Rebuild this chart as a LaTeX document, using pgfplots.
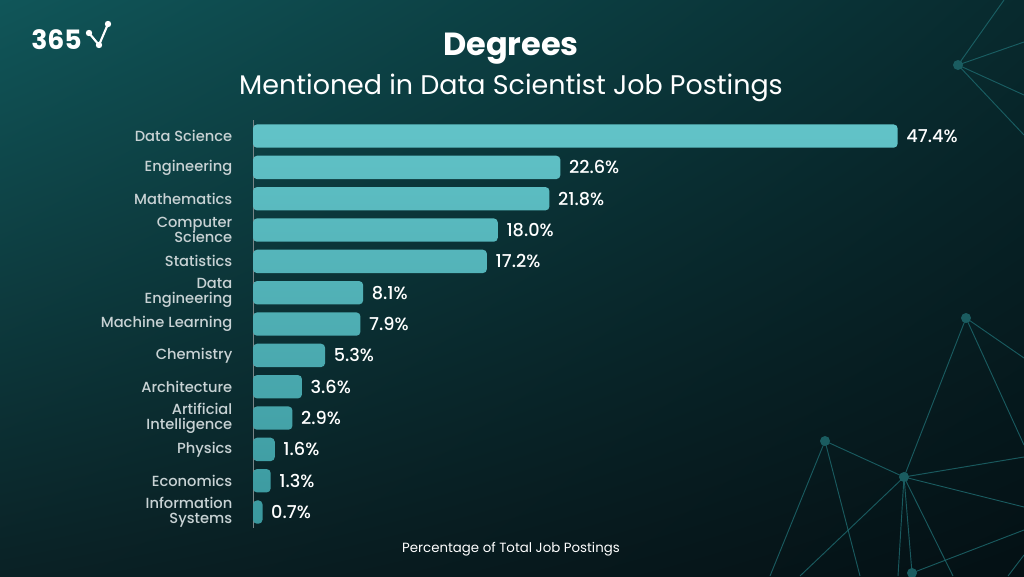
\documentclass[border=0pt]{standalone}
\usepackage{pgfplots}
\pgfplotsset{compat=1.18}
\usepackage{fontspec}
\setmainfont{Poppins}
\newfontfamily\medfont{Poppins Medium}
\usetikzlibrary{shadings}
\definecolor{bgUL}{HTML}{105659}
\definecolor{bgUR}{HTML}{082A2E}
\definecolor{bgLL}{HTML}{0A2125}
\definecolor{bgLR}{HTML}{041014}
\definecolor{barTop}{HTML}{62C3C8}
\definecolor{barBot}{HTML}{3A989E}
\definecolor{labelgray}{HTML}{C8D2D4}
\definecolor{netline}{HTML}{1E6B70}
\definecolor{netnode}{HTML}{1A5C60}
\begin{document}
\begin{tikzpicture}
\shade[upper left=bgUL, upper right=bgUR, lower left=bgLL, lower right=bgLR] (0,0) rectangle (768pt,432pt);
\begin{scope}[x=0.75pt,y=-0.75pt,yshift=432pt]
  % network top right
  \draw[netline, line width=0.7pt, opacity=0.8] (958,65) -- (1004,0);
  \draw[netline, line width=0.7pt, opacity=0.8] (958,65) -- (1024,42);
  \draw[netline, line width=0.7pt, opacity=0.8] (958,65) -- (1024,95);
  \draw[netline, line width=0.7pt, opacity=0.8] (958,65) -- (1024,135);
  \fill[netnode] (958,65) circle (5);
  % network bottom right
  \draw[netline, line width=0.7pt, opacity=0.8] (966,318) -- (904,477);
  \draw[netline, line width=0.7pt, opacity=0.8] (966,318) -- (1024,358);
  \draw[netline, line width=0.7pt, opacity=0.8] (966,318) -- (1024,445);
  \draw[netline, line width=0.7pt, opacity=0.8] (825,441) -- (770,576);
  \draw[netline, line width=0.7pt, opacity=0.8] (825,441) -- (860,576);
  \draw[netline, line width=0.7pt, opacity=0.8] (825,441) -- (904,477);
  \draw[netline, line width=0.7pt, opacity=0.8] (904,477) -- (800,576);
  \draw[netline, line width=0.7pt, opacity=0.8] (904,477) -- (1024,457);
  \draw[netline, line width=0.7pt, opacity=0.8] (904,477) -- (1024,507);
  \draw[netline, line width=0.7pt, opacity=0.8] (904,477) -- (898,576);
  \draw[netline, line width=0.7pt, opacity=0.8] (904,477) -- (912,573);
  \draw[netline, line width=0.7pt, opacity=0.8] (904,477) -- (953,576);
  \draw[netline, line width=0.7pt, opacity=0.8] (912,573) -- (1024,530);
  \draw[netline, line width=0.7pt, opacity=0.8] (1024,555) -- (1008,576);
  \fill[netnode] (966,318) circle (5);
  \fill[netnode] (825,441) circle (5);
  \fill[netnode] (904,477) circle (5);
  \fill[netnode] (912,573) circle (5);
  % logo
  \node[anchor=west, text=white, font=\fontsize{20}{22}\selectfont\bfseries, inner sep=0pt] at (31,40) {365};
  \draw[white, line width=1.6pt] (89,33) -- (99,45) -- (108,24);
  \fill[white] (89,33) circle (3.2);
  \fill[white] (99,45) circle (3.2);
  \fill[white] (108,24) circle (3.2);
  % titles
  \node[text=white, font=\fontsize{24}{26}\selectfont\bfseries] at (511,49) {Degrees};
  \node[text=white, font=\fontsize{20.2}{22}\selectfont] at (511,88) {Mentioned in Data Scientist Job Postings};
  \node[text=white, font=\fontsize{10}{12}\selectfont] at (511,549) {Percentage of Total Job Postings};
\end{scope}
\begin{axis}[
  scale only axis, width=510pt, height=305.5pt,
  at={(189.75pt,36.2pt)}, anchor=south west,
  xmin=0, xmax=50, ymin=-0.5, ymax=12.5,
  axis x line=none, axis y line=left,
  y axis line style={-, draw=white!45!bgLL, line width=0.6pt},
  ytick={0,...,12},
  yticklabels={{Information\\Systems},Economics,Physics,{Artificial\\Intelligence},Architecture,Chemistry,{Machine Learning},{Data\\Engineering},Statistics,{Computer\\Science},Mathematics,Engineering,{Data Science}},
  yticklabel style={align=right, font=\medfont\fontsize{11}{11.5}\selectfont, text=labelgray, xshift=-12pt},
  major tick length=0pt,
  clip=false,
  xbar, bar width=17.5pt,
  /pgf/number format/assume math mode=true,
  point meta=x,
  nodes near coords={\pgfmathprintnumber[fixed,fixed zerofill,precision=1]{\pgfplotspointmeta}\%},
  nodes near coords style={anchor=west, text=white, font=\medfont\fontsize{13.3}{15}\selectfont, xshift=3pt},
]
\addplot[draw=none, top color=barTop, bottom color=barBot, rounded corners=3pt] table {
x y
47.4 12
22.6 11
21.8 10
18.0 9
17.2 8
8.1 7
7.9 6
5.3 5
3.6 4
2.9 3
1.6 2
1.3 1
0.7 0
};
\end{axis}
\pgfresetboundingbox
\useasboundingbox (0,0) rectangle (768pt,432pt);
\end{tikzpicture}
\end{document}
